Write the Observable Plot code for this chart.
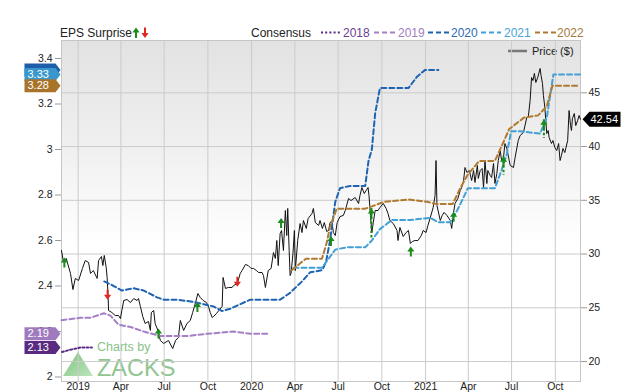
<!DOCTYPE html>
<html>
<head>
<meta charset="utf-8">
<script src="https://cdn.jsdelivr.net/npm/d3@7"></script>
<script src="https://cdn.jsdelivr.net/npm/@observablehq/plot@0.6"></script>
<style>
  body { margin: 0; background: #fff; font-family: "Liberation Sans", Arial, sans-serif; }
  #wrap { position: relative; width: 640px; height: 392px; overflow: hidden; }
  #bg { position: absolute; left: 61px; top: 40px; width: 519px; height: 341px;
        background: linear-gradient(#e2e2e2 0%, #f0f0f0 32%, #ffffff 60%, #ffffff 100%); }
  #overlay { position: absolute; left: 0; top: 0; }
  #legend { display: block; position: relative; overflow: visible; }
  #chart { position: relative; }
  #chart svg { overflow: visible; }
</style>
</head>
<body>
<div id="wrap">
  <div id="bg"></div>
  <svg id="overlay" width="640" height="392"></svg>
  <svg id="legend" width="640" height="39"></svg>
  <div id="chart"></div>
</div>
<script>
// ---------------- data (days since 2019-01-01) ----------------
const priceDay = [-35,-31,-25,-16,-11,-6,1,9,15,22,26,32,40,43,49,52,55,59,61,63,64,71,78,85,89,92,96,103,110,117,124,127,131,136,141,148,152,154,159,162,168,173,180,190,199,205,211,215,222,229,236,241,247,252,257,263,270,275,278,282,285,291,296,303,305,310,316,324,327,335,341,345,352,358,364,369,375,380,387,390,394,400,406,411,415,418,421,425,428,432,436,439,441,444,446,448,452,455,457,462,467,471,474,480,484,492,495,499,506,509,514,518,523,527,530,534,537,541,545,551,558,562,569,574,583,590,593,597,602,606,610,612,615,618,621,625,631,635,642,648,652,656,663,671,673,677,684,690,695,699,703,709,715,722,726,732,736,741,747,751,753,755,762,766,770,776,783,786,789,793,799,804,807,811,814,818,823,828,832,835,840,842,846,850,853,856,860,862,867,870,874,877,881,884,888,891,895,898,902,909,916,919,926,930,937,944,947,951,954,957,960,963,967,972,974,977,979,982,986,989,991,996,999,1003,1007,1011,1014,1017,1020,1024,1030,1033,1036,1038,1040,1044,1047,1051,1054,1057];
const priceValue = [30.33,29.31,29.59,28.19,26.70,27.73,27.54,28.66,29.40,29.21,28.19,28.47,27.73,29.40,29.77,28.93,29.87,28.75,27.82,26.14,24.75,24.56,24.28,24.28,24.00,24.75,25.68,25.77,25.49,25.86,25.68,25.86,25.12,24.19,23.54,23.73,22.89,24.56,24.75,23.54,22.89,21.96,21.68,21.96,21.21,21.96,22.24,23.82,22.89,23.54,23.82,24.56,25.49,26.33,25.96,25.68,25.49,25.03,24.56,24.10,24.19,24.47,24.75,25.12,27.82,26.80,26.89,26.89,27.07,27.26,28.19,28.47,29.03,28.93,28.66,28.66,28.47,28.28,28.28,28.00,26.89,28.47,28.66,30.14,29.59,31.26,28.93,31.91,32.19,30.33,34.05,31.72,34.24,30.33,28.00,28.19,30.05,32.19,28.47,31.26,32.84,32.00,33.12,32.38,33.31,33.77,34.24,32.93,32.66,33.12,32.38,32.93,32.10,32.19,32.93,33.03,32.00,31.72,32.93,33.49,33.59,34.05,35.17,34.98,35.26,34.70,35.45,36.19,35.63,35.91,36.19,35.45,33.59,32.00,32.93,34.05,34.05,34.33,34.70,34.24,33.77,33.12,32.84,32.19,31.26,32.47,31.63,32.00,32.19,30.98,31.17,31.26,31.26,31.72,32.19,32.00,32.66,33.40,34.33,35.45,38.70,34.51,33.12,33.59,33.87,33.59,33.12,32.38,33.59,34.70,35.17,35.91,36.19,36.84,38.05,37.59,37.77,36.84,37.77,36.66,38.24,37.03,37.77,37.96,36.19,38.70,36.56,37.77,37.31,37.12,38.42,36.56,37.49,38.70,39.63,38.70,38.98,40.28,39.82,38.24,38.05,38.89,40.56,41.03,41.31,42.70,42.70,44.28,46.42,46.14,46.80,45.96,46.42,47.26,46.61,45.87,44.75,43.63,41.21,41.49,40.84,40.28,40.56,39.91,39.63,40.28,38.70,39.17,39.82,39.44,40.56,43.35,41.95,41.49,42.61,43.07,41.95,42.42,42.89,42.54];

const cons2018Day = [-34,-16,5,29];
const cons2018Eps = [2.11,2.12,2.13,2.13];
const cons2019Day = [-35,5,26,54,68,85,110,138,173,194,229,271,327,362,398];
const cons2019Eps = [2.25,2.26,2.26,2.28,2.27,2.23,2.22,2.20,2.18,2.18,2.18,2.19,2.20,2.19,2.19];
const cons2020Day = [55,75,92,117,138,166,180,208,243,264,285,303,320,341,362,425,446,471,488,514,522,530,541,551,572,604,611,618,625,635,663,695,713,730,758];
const cons2020Eps = [2.42,2.40,2.38,2.39,2.38,2.35,2.34,2.34,2.33,2.32,2.31,2.29,2.30,2.32,2.34,2.34,2.37,2.42,2.46,2.47,2.51,2.60,2.77,2.83,2.84,2.84,2.95,3.00,3.16,3.27,3.27,3.27,3.32,3.35,3.35];
const cons2021Day = [453,481,513,527,541,565,604,618,635,660,698,741,758,783,797,811,820,877,891,902,911,930,972,986,1000,1056];
const cons2021Eps = [2.48,2.48,2.48,2.52,2.56,2.57,2.57,2.60,2.65,2.69,2.69,2.70,2.68,2.68,2.73,2.79,2.83,2.83,2.91,2.98,3.08,3.08,3.07,3.14,3.33,3.33];
const cons2022Day = [450,479,513,523,530,537,544,604,618,644,696,734,755,788,804,820,844,877,890,907,938,968,986,998,1056];
const cons2022Eps = [2.47,2.52,2.52,2.59,2.66,2.70,2.74,2.74,2.75,2.77,2.78,2.77,2.76,2.76,2.83,2.89,2.95,2.95,3.01,3.09,3.14,3.15,3.19,3.28,3.28];

const surpriseDay  = [-29, 62, 169, 251, 335, 427, 532, 617, 700, 790, 895, 980];
const surpriseDir  = ["up","down","up","up","down","up","up","up","up","up","up","up"];
const surpriseTip  = [29.68, 25.74, 23.07, 25.54, 26.95, 33.35, 31.68, 34.24, 30.70, 33.93, 39.05, 42.49];
const surpriseTail = [null,null,null,null,null,null,null,31.42,null,null,37.31,40.75];

const consensusYears = ["2018","2019","2020","2021","2022"];
const epsTicks = [2, 2.2, 2.4, 2.6, 2.8, 3, 3.2, 3.4];
const priceTicks = [20, 25, 30, 35, 40, 45];
const lastPrice = 42.54;

// ---------------- styles ----------------
const style = {
  "2018": {line: "#5b2a86", text: "#6a3d91", badge: "#5a2a80", dash: "2,2.2"},
  "2019": {line: "#a57fc6", text: "#a27dc0", badge: "#a07abf", dash: "5,3"},
  "2020": {line: "#1f63b3", text: "#2e6cb2", badge: "#1e5ea8", dash: "5,3"},
  "2021": {line: "#41a0d6", text: "#47a3d6", badge: "#3897cc", dash: "5,3"},
  "2022": {line: "#b07a30", text: "#a57a3f", badge: "#a8742a", dash: "5,3"}
};
const GREEN = "#1a8c1a", RED = "#e3261f";

// ---------------- helpers ----------------
const base = Date.UTC(2019, 0, 1);
const dayToDate = d => new Date(base + d * 864e5);
// twin-axis alignment: EPS (left) expressed in price (right) units
const epsToPrice = e => 48.19 - (3.4 - e) * 21.163;
const priceToEps = p => 3.4 - (48.19 - p) / 21.163;

const consDays = {"2018": cons2018Day, "2019": cons2019Day, "2020": cons2020Day, "2021": cons2021Day, "2022": cons2022Day};
const consEps  = {"2018": cons2018Eps, "2019": cons2019Eps, "2020": cons2020Eps, "2021": cons2021Eps, "2022": cons2022Eps};

const price = priceDay.map((d, i) => ({date: dayToDate(d), p: priceValue[i]}));
const surprises = surpriseDay.map((d, i) => ({date: dayToDate(d), dir: surpriseDir[i], tip: surpriseTip[i], tail: surpriseTail[i]}));
const quarters = d3.utcMonth.every(3).range(new Date(Date.UTC(2019,0,1)), new Date(Date.UTC(2021,10,1)));

const arrowUp = {draw(c){ c.moveTo(0,0); c.lineTo(3.6,5); c.lineTo(1,5); c.lineTo(1,10); c.lineTo(-1,10); c.lineTo(-1,5); c.lineTo(-3.6,5); c.closePath(); }};
const arrowDown = {draw(c){ c.moveTo(0,0); c.lineTo(3.6,-5); c.lineTo(1,-5); c.lineTo(1,-10); c.lineTo(-1,-10); c.lineTo(-1,-5); c.lineTo(-3.6,-5); c.closePath(); }};
const badgeLeft = {draw(c){ c.moveTo(-37,-6.5); c.lineTo(-6,-6.5); c.lineTo(-1,0); c.lineTo(-6,6.5); c.lineTo(-37,6.5); c.closePath(); }};
const badgeRight = {draw(c){ c.moveTo(2,0); c.lineTo(9,-7.5); c.lineTo(40,-7.5); c.lineTo(40,7.5); c.lineTo(9,7.5); c.closePath(); }};

const fmt2 = d3.format(".2f");

// ---------------- marks ----------------
const marks = [
  Plot.gridY(priceTicks, {stroke: "#cbcbcb", strokeOpacity: 1}),
  Plot.gridX(quarters, {stroke: "#cbcbcb", strokeOpacity: 1}),
  Plot.frame({stroke: "#c6c6c6"}),
  Plot.line(price, {x: "date", y: "p", stroke: "#111", strokeWidth: 1})
];
for (const yr of consensusYears) {
  const rows = consDays[yr].map((d, i) => ({date: dayToDate(d), p: epsToPrice(consEps[yr][i])}));
  marks.push(Plot.line(rows, {x: "date", y: "p", stroke: style[yr].line, strokeWidth: 2, strokeDasharray: style[yr].dash}));
}
marks.push(
  Plot.ruleX(surprises.filter(d => d.tail != null), {x: "date", y1: "tip", y2: "tail", stroke: GREEN, strokeWidth: 2, strokeDasharray: "2.5,2"}),
  Plot.dot(surprises.filter(d => d.dir === "up"), {x: "date", y: "tip", symbol: arrowUp, fill: GREEN, stroke: "none"}),
  Plot.dot(surprises.filter(d => d.dir === "down"), {x: "date", y: "tip", symbol: arrowDown, fill: RED, stroke: "none"})
);
// axes (drawn before the badges, which cover them as in the original)
marks.push(
  Plot.axisY(epsTicks.map(epsToPrice), {anchor: "left", tickSize: 6, tickPadding: 3, stroke: "#999", fill: "#222",
    tickFormat: p => String(Math.round(priceToEps(p) * 10) / 10), label: null}),
  Plot.axisY(priceTicks, {anchor: "right", tickSize: 6, tickPadding: 2, stroke: "#999", fill: "#222", label: null}),
  Plot.axisX(quarters, {anchor: "bottom", tickSize: 0, tickPadding: 1.5, fill: "#222", label: null,
    tickFormat: d => d.getUTCMonth() === 0 ? String(d.getUTCFullYear()) : d3.utcFormat("%b")(d)})
);
// left badges with the last consensus value of each year (a badge hidden under the next one shows no label)
const lastEps = consensusYears.map(yr => consEps[yr][consEps[yr].length - 1]);
consensusYears.forEach((yr, i) => {
  const v = lastEps[i];
  const b = [{p: epsToPrice(v), t: fmt2(v)}];
  marks.push(Plot.dot(b, {y: "p", frameAnchor: "left", symbol: badgeLeft, fill: style[yr].badge, stroke: "none"}));
  const next = lastEps[i + 1];
  if (next === undefined || Math.abs(next - v) > 0.04) {
    marks.push(Plot.text(b, {y: "p", text: "t", frameAnchor: "left", dx: -34, textAnchor: "start", fill: "white", fontSize: 11}));
  }
});
// right price badge
const pb = [{p: lastPrice, t: fmt2(lastPrice)}];
marks.push(
  Plot.dot(pb, {y: "p", frameAnchor: "right", symbol: badgeRight, fill: "#000", stroke: "none"}),
  Plot.text(pb, {y: "p", text: "t", frameAnchor: "right", dx: 10, textAnchor: "start", fill: "white", fontSize: 11})
);

const chart = Plot.plot({
  width: 640,
  height: 353,
  marginLeft: 61,
  marginRight: 60,
  marginTop: 1,
  marginBottom: 11,
  style: {background: "transparent", fontFamily: "'Liberation Sans', Arial, sans-serif", fontSize: "10.5px", color: "#222"},
  x: {type: "utc", domain: [dayToDate(-35), dayToDate(1057)]},
  y: {domain: [18.144, 49.865]},
  marks
});
document.getElementById("chart").appendChild(chart);

// ---------------- legend (above the chart) ----------------
const NS = "http://www.w3.org/2000/svg";
function el(parent, tag, attrs, text) {
  const e = document.createElementNS(NS, tag);
  for (const k in attrs) e.setAttribute(k, attrs[k]);
  if (text != null) e.textContent = text;
  parent.appendChild(e);
  return e;
}
const lg = document.getElementById("legend");
const F = "'Liberation Sans', Arial, sans-serif";
el(lg, "text", {x: 60, y: 37, "font-size": 12, "font-family": F, fill: "#222"}, "EPS Surprise");
el(lg, "path", {d: "M136,27.5 L139.6,32.5 L137,32.5 L137,38 L135,38 L135,32.5 L132.4,32.5 Z", fill: GREEN});
el(lg, "path", {d: "M145,38 L148.6,33 L146,33 L146,27.5 L144,27.5 L144,33 L141.4,33 Z", fill: RED});
el(lg, "text", {x: 251, y: 37, "font-size": 12, "font-family": F, fill: "#222"}, "Consensus");
const legendPos = {"2018": [321, 340, 343], "2019": [374, 396, 398], "2020": [428, 449, 451], "2021": [481, 501, 504], "2022": [535, 556, 557]};
for (const yr of consensusYears) {
  const [a, b, t] = legendPos[yr];
  el(lg, "line", {x1: a, x2: b, y1: 32.5, y2: 32.5, stroke: style[yr].line, "stroke-width": 2, "stroke-dasharray": style[yr].dash});
  el(lg, "text", {x: t, y: 37, "font-size": 12, "font-family": F, fill: style[yr].text}, yr);
}

// ---------------- overlay: watermark + price key ----------------
const ov = document.getElementById("overlay");
const defs = el(ov, "defs", {});
const lgr = el(defs, "linearGradient", {id: "zg", x1: 0, y1: 0, x2: 1, y2: 1});
el(lgr, "stop", {offset: "0%", "stop-color": "#4fb04f"});
el(lgr, "stop", {offset: "100%", "stop-color": "#a9dca9"});
el(ov, "path", {d: "M63,376 L78,352 L93,376 Z", fill: "url(#zg)", opacity: 0.75});
el(ov, "text", {x: 97, y: 350.5, "font-size": 12.5, "font-family": F, fill: "#7dbb7d", opacity: 0.9}, "Charts by");
el(ov, "text", {x: 97, y: 375.5, "font-size": 23.5, "font-family": F, fill: "#7dbb7d", opacity: 0.85}, "ZACKS");
el(ov, "line", {x1: 508, x2: 527, y1: 51, y2: 51, stroke: "#777", "stroke-width": 2.5});
el(ov, "text", {x: 532, y: 55, "font-size": 11, "font-family": F, fill: "#222"}, "Price ($)");
</script>
</body>
</html>
